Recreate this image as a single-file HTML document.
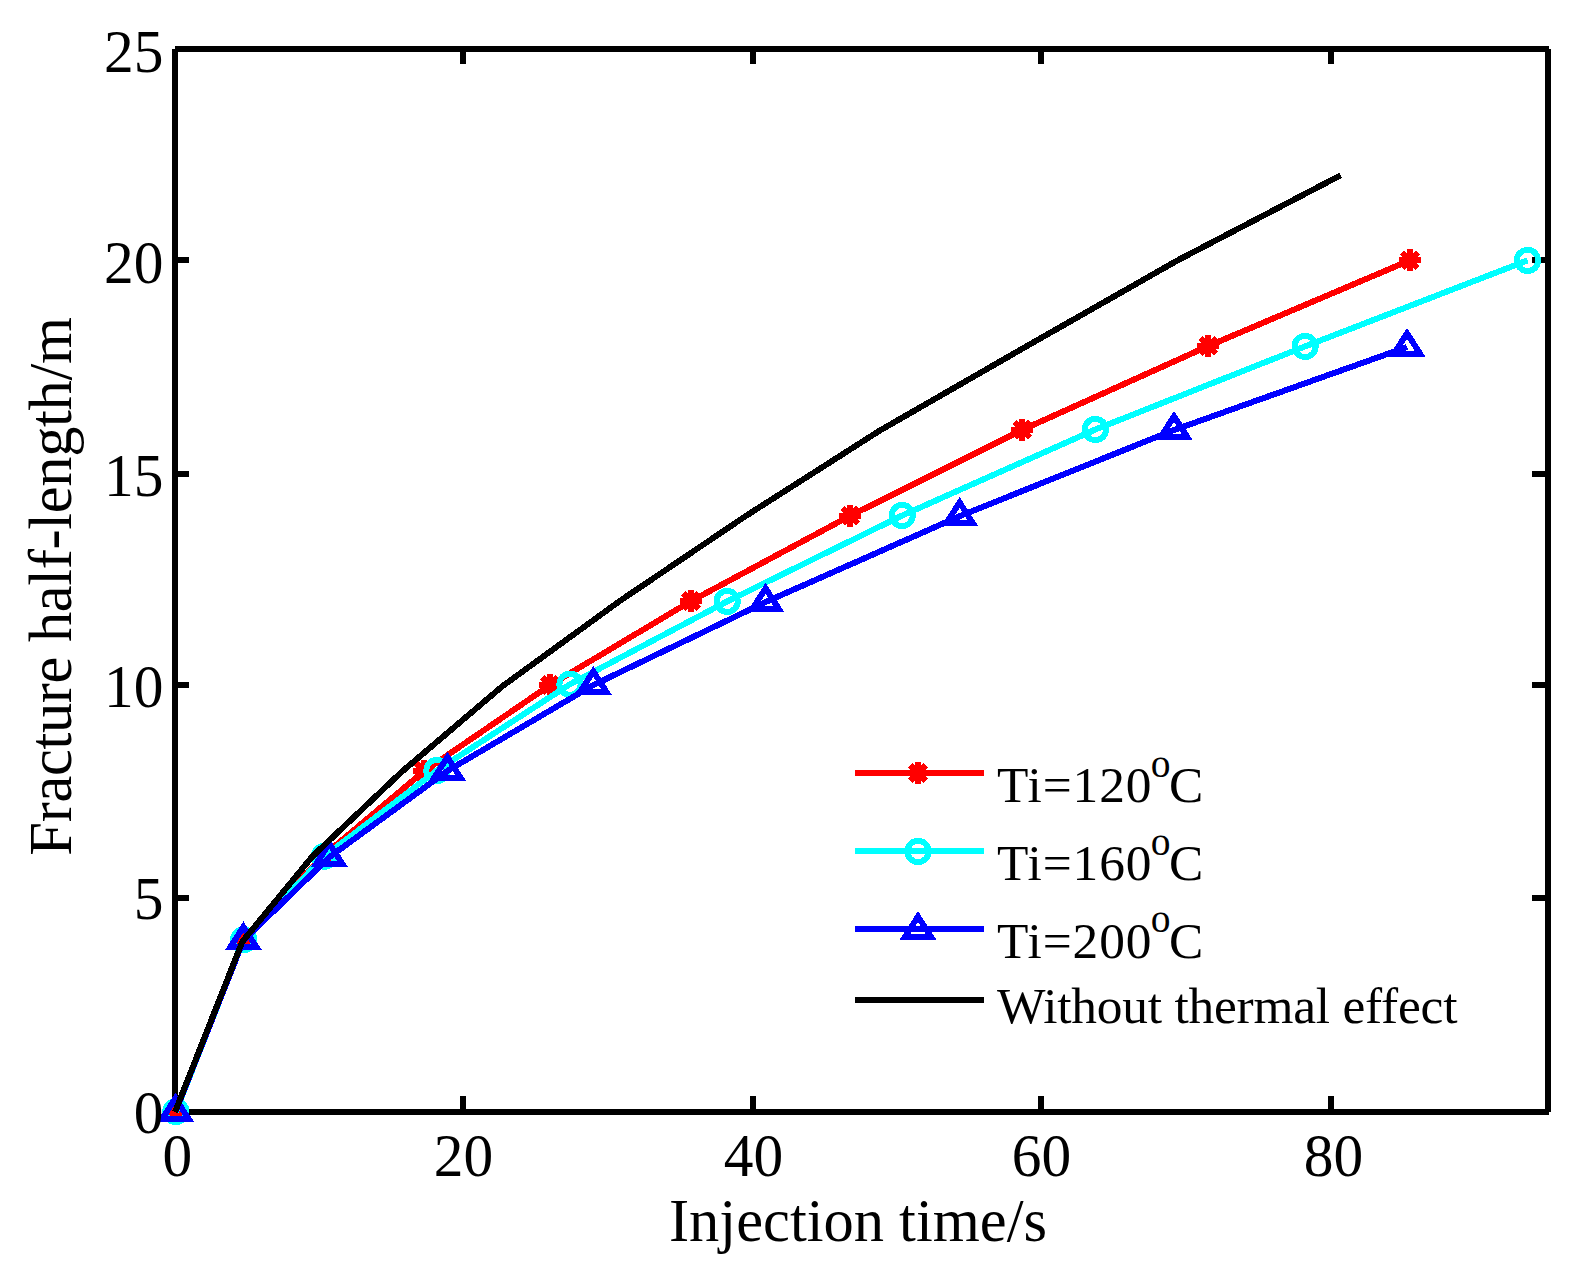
<!DOCTYPE html>
<html lang="en"><head><meta charset="utf-8"><title>Fracture half-length vs injection time</title>
<style>html,body{margin:0;padding:0;background:#fff;overflow:hidden}svg{display:block}text{font-family:"Liberation Serif", "Times New Roman", serif;fill:#000}</style></head><body>
<svg width="1588" height="1273" viewBox="0 0 1588 1273">
<rect width="1588" height="1273" fill="#fff"/>
<g stroke="#000" stroke-width="6" fill="none" shape-rendering="crispEdges">
<path d="M175 49H1549M175 1112H1549M175 49V1112M1548 49V1112"/>
<path d="M463 1112V1096M463 49V63.5"/>
<path d="M753 1112V1096M753 49V63.5"/>
<path d="M1041 1112V1096M1041 49V63.5"/>
<path d="M1331 1112V1096M1331 49V63.5"/>
<path d="M175 898H189M1548 898H1532"/>
<path d="M175 685H189M1548 685H1532"/>
<path d="M175 474H189M1548 474H1532"/>
<path d="M175 260H189M1548 260H1532"/>
</g>
<g shape-rendering="crispEdges">
<polyline points="175.0,1112.0 243.5,940.2 322.5,856.5 424.2,771.0 550.2,685.0 691.1,601.1 850.4,515.7 1022.4,429.8 1208.4,346.0 1410.0,260.3" stroke="#f00" stroke-width="6" fill="none" stroke-linejoin="round"/>
<path d="M164.0 1112.0H186.0M175.0 1101.0V1123.0M167.2 1104.2L182.8 1119.8M167.2 1119.8L182.8 1104.2" stroke="#f00" stroke-width="6" fill="none"/>
<path d="M232.5 940.2H254.5M243.5 929.2V951.2M235.7 932.4L251.3 948.0M235.7 948.0L251.3 932.4" stroke="#f00" stroke-width="6" fill="none"/>
<path d="M311.5 856.5H333.5M322.5 845.5V867.5M314.7 848.7L330.3 864.3M314.7 864.3L330.3 848.7" stroke="#f00" stroke-width="6" fill="none"/>
<path d="M413.2 771.0H435.2M424.2 760.0V782.0M416.4 763.2L432.0 778.8M416.4 778.8L432.0 763.2" stroke="#f00" stroke-width="6" fill="none"/>
<path d="M539.2 685.0H561.2M550.2 674.0V696.0M542.4 677.2L558.0 692.8M542.4 692.8L558.0 677.2" stroke="#f00" stroke-width="6" fill="none"/>
<path d="M680.1 601.1H702.1M691.1 590.1V612.1M683.3 593.3L698.9 608.9M683.3 608.9L698.9 593.3" stroke="#f00" stroke-width="6" fill="none"/>
<path d="M839.4 515.7H861.4M850.4 504.7V526.7M842.6 507.9L858.2 523.5M842.6 523.5L858.2 507.9" stroke="#f00" stroke-width="6" fill="none"/>
<path d="M1011.4 429.8H1033.4M1022.4 418.8V440.8M1014.6 422.0L1030.2 437.6M1014.6 437.6L1030.2 422.0" stroke="#f00" stroke-width="6" fill="none"/>
<path d="M1197.4 346.0H1219.4M1208.4 335.0V357.0M1200.6 338.2L1216.2 353.8M1200.6 353.8L1216.2 338.2" stroke="#f00" stroke-width="6" fill="none"/>
<path d="M1399.0 260.3H1421.0M1410.0 249.3V271.3M1402.2 252.5L1417.8 268.1M1402.2 268.1L1417.8 252.5" stroke="#f00" stroke-width="6" fill="none"/>
<polyline points="175.9,1111.6 243.6,939.8 324.5,856.2 436.8,770.5 570.0,684.2 727.2,601.4 902.2,515.5 1095.4,429.5 1305.1,346.4 1527.5,260.4" stroke="#0ff" stroke-width="6" fill="none" stroke-linejoin="round"/>
<circle cx="175.9" cy="1111.6" r="10.6" stroke="#0ff" stroke-width="6" fill="none"/>
<circle cx="243.6" cy="939.8" r="10.6" stroke="#0ff" stroke-width="6" fill="none"/>
<circle cx="324.5" cy="856.2" r="10.6" stroke="#0ff" stroke-width="6" fill="none"/>
<circle cx="436.8" cy="770.5" r="10.6" stroke="#0ff" stroke-width="6" fill="none"/>
<circle cx="570.0" cy="684.2" r="10.6" stroke="#0ff" stroke-width="6" fill="none"/>
<circle cx="727.2" cy="601.4" r="10.6" stroke="#0ff" stroke-width="6" fill="none"/>
<circle cx="902.2" cy="515.5" r="10.6" stroke="#0ff" stroke-width="6" fill="none"/>
<circle cx="1095.4" cy="429.5" r="10.6" stroke="#0ff" stroke-width="6" fill="none"/>
<circle cx="1305.1" cy="346.4" r="10.6" stroke="#0ff" stroke-width="6" fill="none"/>
<circle cx="1527.5" cy="260.4" r="10.6" stroke="#0ff" stroke-width="6" fill="none"/>
<polyline points="175.4,1112.0 243.4,940.5 329.3,857.2 447.4,770.9 593.3,685.1 765.6,602.0 959.6,516.2 1174.0,430.0 1407.0,347.0" stroke="#00f" stroke-width="6" fill="none" stroke-linejoin="round"/>
<path d="M175.4 1098.3L188.6 1118.9L162.2 1118.9Z" stroke="#00f" stroke-width="6" fill="none" stroke-linejoin="miter" stroke-miterlimit="10"/>
<path d="M243.4 926.8L256.6 947.4L230.2 947.4Z" stroke="#00f" stroke-width="6" fill="none" stroke-linejoin="miter" stroke-miterlimit="10"/>
<path d="M329.3 843.5L342.5 864.1L316.1 864.1Z" stroke="#00f" stroke-width="6" fill="none" stroke-linejoin="miter" stroke-miterlimit="10"/>
<path d="M447.4 757.2L460.6 777.8L434.2 777.8Z" stroke="#00f" stroke-width="6" fill="none" stroke-linejoin="miter" stroke-miterlimit="10"/>
<path d="M593.3 671.4L606.5 692.0L580.1 692.0Z" stroke="#00f" stroke-width="6" fill="none" stroke-linejoin="miter" stroke-miterlimit="10"/>
<path d="M765.6 588.3L778.8 608.9L752.4 608.9Z" stroke="#00f" stroke-width="6" fill="none" stroke-linejoin="miter" stroke-miterlimit="10"/>
<path d="M959.6 502.5L972.8 523.1L946.4 523.1Z" stroke="#00f" stroke-width="6" fill="none" stroke-linejoin="miter" stroke-miterlimit="10"/>
<path d="M1174.0 416.3L1187.2 436.9L1160.8 436.9Z" stroke="#00f" stroke-width="6" fill="none" stroke-linejoin="miter" stroke-miterlimit="10"/>
<path d="M1407.0 333.3L1420.2 353.9L1393.8 353.9Z" stroke="#00f" stroke-width="6" fill="none" stroke-linejoin="miter" stroke-miterlimit="10"/>
<polyline points="175.0,1112.0 242.3,941.7 312.3,856.5 402.2,771.4 502.4,686.2 619.6,601.1 745.9,515.9 879.4,430.8 1027.7,345.6 1177.3,260.5 1340.6,175.3" stroke="#000" stroke-width="6" fill="none" stroke-linejoin="round"/>
<path d="M855 773H984" stroke="#f00" stroke-width="6"/>
<path d="M907.0 773.0H929.0M918.0 762.0V784.0M910.2 765.2L925.8 780.8M910.2 780.8L925.8 765.2" stroke="#f00" stroke-width="6" fill="none"/>
<path d="M855 851H984" stroke="#0ff" stroke-width="6"/>
<circle cx="918.0" cy="851.4" r="10.6" stroke="#0ff" stroke-width="6" fill="none"/>
<path d="M855 928.5H984" stroke="#00f" stroke-width="6"/>
<path d="M918.0 916.6L931.2 937.2L904.8 937.2Z" stroke="#00f" stroke-width="6" fill="none" stroke-linejoin="miter" stroke-miterlimit="10"/>
<path d="M855 1000H984" stroke="#000" stroke-width="6"/>
</g>
<text x="997" y="802.2" font-size="51.4" letter-spacing="0.9">Ti=120<tspan x="1150.8" dy="-25.6" font-size="39.5">o</tspan><tspan x="1169" dy="25.6">C</tspan></text>
<text x="997" y="880.1" font-size="51.4" letter-spacing="0.9">Ti=160<tspan x="1150.8" dy="-25.6" font-size="39.5">o</tspan><tspan x="1169" dy="25.6">C</tspan></text>
<text x="997" y="957.9" font-size="51.4" letter-spacing="0.9">Ti=200<tspan x="1150.8" dy="-25.6" font-size="39.5">o</tspan><tspan x="1169" dy="25.6">C</tspan></text>
<text x="997" y="1022.6" font-size="51.4" letter-spacing="-0.22">Without thermal effect</text>
<text transform="translate(177.4 1175.9) scale(0.99 1.035)" font-size="60" text-anchor="middle">0</text>
<text transform="translate(463.5 1175.9) scale(0.99 1.035)" font-size="60" text-anchor="middle">20</text>
<text transform="translate(753.5 1175.9) scale(0.99 1.035)" font-size="60" text-anchor="middle">40</text>
<text transform="translate(1041.5 1175.9) scale(0.99 1.035)" font-size="60" text-anchor="middle">60</text>
<text transform="translate(1333.4 1175.9) scale(0.99 1.035)" font-size="60" text-anchor="middle">80</text>
<text transform="translate(163.5 1133.4) scale(0.99 1.035)" font-size="60" text-anchor="end">0</text>
<text transform="translate(163.5 918.8) scale(0.99 1.035)" font-size="60" text-anchor="end">5</text>
<text transform="translate(163.5 706.7) scale(0.99 1.035)" font-size="60" text-anchor="end">10</text>
<text transform="translate(163.5 495.9) scale(0.99 1.035)" font-size="60" text-anchor="end">15</text>
<text transform="translate(163.5 282.9) scale(0.99 1.035)" font-size="60" text-anchor="end">20</text>
<text transform="translate(163.5 71.9) scale(0.99 1.035)" font-size="60" text-anchor="end">25</text>
<text x="858" y="1241.3" font-size="60.5" text-anchor="middle">Injection time/s</text>
<text transform="translate(71.2 586.5) rotate(-90)" font-size="60.5" text-anchor="middle" letter-spacing="-0.35">Fracture half-length/m</text>
</svg></body></html>
